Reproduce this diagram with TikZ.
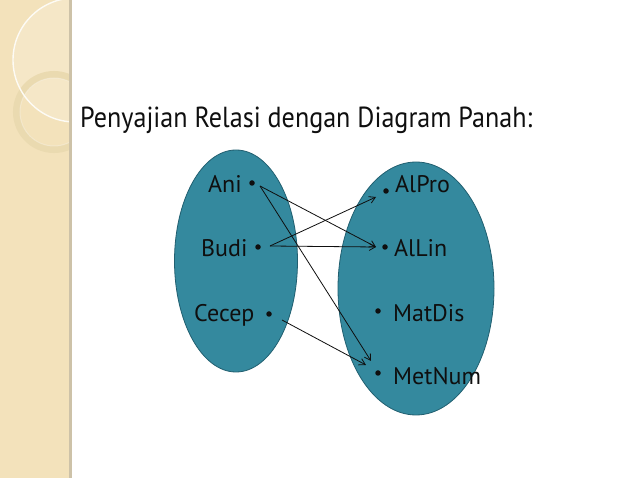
\documentclass[tikz,border=0pt]{standalone}
\usepackage{fontspec}
\setmainfont{PT Sans}
\usetikzlibrary{arrows.meta}
\definecolor{strip}{RGB}{243,226,187}
\definecolor{stripline}{RGB}{205,194,168}
\definecolor{ringc}{RGB}{234,218,176}
\definecolor{teal}{RGB}{52,137,158}
\definecolor{tealdark}{RGB}{33,95,112}
\definecolor{txt}{RGB}{15,15,15}
\tikzset{
  setshape/.style={draw=tealdark, line width=0.8pt, fill=teal},
  lbl/.style={anchor=base west, inner sep=0pt, text=txt, font=\fontsize{24}{28}\selectfont},
  dotn/.style={circle, fill=txt, inner sep=0pt, minimum size=5.5pt},
  rel/.style={-{Straight Barb[length=6pt,width=7pt]}, line width=0.8pt, draw=txt}
}
\begin{document}
\begin{tikzpicture}[x=1pt,y=-1pt]
\useasboundingbox (0,0) rectangle (638,478);
\fill[white] (0,0) rectangle (638,478);
% left strip
\fill[strip] (0,0) rectangle (69,478);
\begin{scope}
\clip (0,0) rectangle (69,478);
\fill[white, opacity=0.18] (75,60) circle[radius=62];
\draw[ringc, line width=7pt] (54,112) circle[radius=37.5];
\draw[white, opacity=0.3, line width=1pt] (54,112) circle[radius=34];
\draw[white!85!strip, line width=1.4pt] (75,60) circle[radius=62];
\end{scope}
\fill[stripline] (69,0) rectangle (71.5,478);
% title
\node[anchor=base west, inner sep=0pt, text=txt, font=\fontsize{29}{33}\selectfont] (title) at (80,128) {\scalebox{0.9}[1]{Penyajian Relasi dengan Diagram Panah:}};
% sets
\draw[setshape] (236,261) ellipse[x radius=61.5, y radius=111];
\draw[setshape] (416,288.5) ellipse[x radius=78, y radius=126.5];
% domain labels
\node[lbl] (ani) at (208,193) {Ani};
\node[lbl] (budi) at (201,257) {Budi};
\node[lbl] (cecep) at (194,322) {Cecep};
\node[dotn] (dani) at (252,183) {};
\node[dotn] (dbudi) at (258,247) {};
\node[dotn] (dcecep) at (269,314) {};
% codomain labels
\node[lbl] (alpro) at (395,193) {AlPro};
\node[lbl] (allin) at (394,257) {AlLin};
\node[lbl] (matdis) at (393,322) {MatDis};
\node[lbl] (metnum) at (393,385) {MetNum};
\node[dotn] (dalpro) at (386,191) {};
\node[dotn] (dallin) at (385,247) {};
\node[dotn] (dmatdis) at (378,311) {};
\node[dotn] (dmetnum) at (378,373) {};
% arrow endpoints
\coordinate (sani) at (260,186);
\coordinate (sbudi) at (270,246);
\coordinate (scecep) at (282,320);
\coordinate (ealpro) at (376,197);
\coordinate (eallin) at (376,247);
\coordinate (emetnumA) at (371,361);
\coordinate (emetnumC) at (366,365);
% relations
\draw[rel] (sani) -- (eallin);
\draw[rel] (sani) -- (emetnumA);
\draw[rel] (sbudi) -- (ealpro);
\draw[rel] (sbudi) -- (eallin);
\draw[rel] (scecep) -- (emetnumC);
\end{tikzpicture}
\end{document}
